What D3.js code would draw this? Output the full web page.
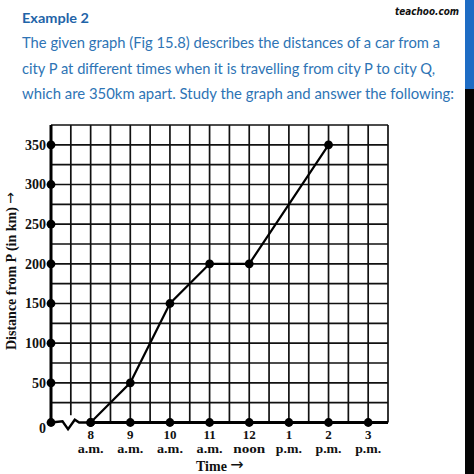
<!DOCTYPE html>
<html>
<head>
<meta charset="utf-8">
<script src="https://cdn.jsdelivr.net/npm/d3@7"></script>
<style>
  html, body { margin: 0; padding: 0; background: #fff; overflow: hidden; }
  svg { display: block; }
</style>
</head>
<body>
<svg id="chart" width="474" height="474"></svg>
<script>
// ---- data ----
const headingText = "Example 2";
const bodyLines = [
  "The given graph (Fig 15.8) describes the distances of a car from a",
  "city P at different times when it is travelling from city P to city Q,",
  "which are 350km apart. Study the graph and answer the following:"
];
const watermark = "teachoo.com";
const timeTicks = [8, 9, 10, 11, 12, 13, 14, 15];
const timeLabelTop = ["8", "9", "10", "11", "12", "1", "2", "3"];
const timeLabelBottom = ["a.m.", "a.m.", "a.m.", "a.m.", "noon", "p.m.", "p.m.", "p.m."];
const distTicks = [0, 50, 100, 150, 200, 250, 300, 350];
const times = [8, 9, 10, 11, 12, 14];
const distances = [0, 50, 150, 200, 200, 350];
const xTitle = "Time ";
const yTitle = "Distance from P (in km) ";
const arrow = "\u2192";
// axis break (zig-zag) in data units
const breakX = [7, 7.29, 7.43, 7.6, 7.71, 8];
const breakY = [0, 1.5, -8.5, 3.5, 0, 0];

// ---- layout ----
const svg = d3.select("#chart");
const blue = "#2e74b5";
const x = d3.scaleLinear().domain([7, 15.5]).range([51, 388]);
const y = d3.scaleLinear().domain([0, 375]).range([422.5, 125]);

// right edge strip
svg.append("rect").attr("x", 465).attr("y", 0).attr("width", 9).attr("height", 89).attr("fill", "#1e6cc4");
svg.append("rect").attr("x", 465).attr("y", 89).attr("width", 9).attr("height", 385).attr("fill", "#050505");

// heading and text
svg.append("text").attr("x", 22).attr("y", 22.7)
  .attr("font-family", "Lato, 'Open Sans', sans-serif").attr("font-weight", 700)
  .attr("font-size", 13.5).attr("fill", "#1f64a8")
  .attr("textLength", 67).attr("lengthAdjust", "spacingAndGlyphs")
  .text(headingText);

const lineBase = [47.5, 73.5, 98.5];
const lineWidth = [418, 413, 432];
svg.selectAll("text.body").data(bodyLines).join("text")
  .attr("class", "body")
  .attr("x", 22).attr("y", (d, i) => lineBase[i])
  .attr("font-family", "Lato, 'Open Sans', sans-serif")
  .attr("font-size", 15).attr("fill", blue)
  .attr("textLength", (d, i) => lineWidth[i]).attr("lengthAdjust", "spacingAndGlyphs")
  .text(d => d);

svg.append("text").attr("x", 395).attr("y", 15)
  .attr("font-family", "'DejaVu Sans', sans-serif").attr("font-weight", 700).attr("font-style", "italic")
  .attr("font-size", 11).attr("fill", "#111")
  .attr("textLength", 64).attr("lengthAdjust", "spacingAndGlyphs")
  .text(watermark);

// grid
const g = svg.append("g");
const vLines = d3.range(7.5, 15.51, 0.5);
const hLines = d3.range(25, 375.1, 25);
g.selectAll("line.v").data(vLines).join("line")
  .attr("x1", d => x(d)).attr("x2", d => x(d))
  .attr("y1", y(375)).attr("y2", d => d < 8 ? y(9) : y(0))
  .attr("stroke", "#111").attr("stroke-width", 1.7);
g.selectAll("line.h").data(hLines).join("line")
  .attr("x1", x(7)).attr("x2", x(15.5))
  .attr("y1", d => y(d)).attr("y2", d => y(d))
  .attr("stroke", "#111").attr("stroke-width", 1.7);

// axes
g.append("line").attr("x1", x(7)).attr("x2", x(7)).attr("y1", y(375)).attr("y2", y(0))
  .attr("stroke", "#000").attr("stroke-width", 3);
g.append("line").attr("x1", x(8)).attr("x2", x(15.5)).attr("y1", y(0)).attr("y2", y(0))
  .attr("stroke", "#000").attr("stroke-width", 3);
g.append("path")
  .attr("d", d3.line().x(d => x(d[0])).y(d => y(d[1]))(breakX.map((v, i) => [v, breakY[i]])))
  .attr("fill", "none").attr("stroke", "#000").attr("stroke-width", 2.4).attr("stroke-linejoin", "miter");

// data line
g.append("path")
  .attr("d", d3.line().x(d => x(d[0])).y(d => y(d[1]))(times.map((t, i) => [t, distances[i]])))
  .attr("fill", "none").attr("stroke", "#000").attr("stroke-width", 2.2);

// dots
const r = 4.4;
g.selectAll("circle.yd").data(distTicks).join("circle")
  .attr("cx", x(7)).attr("cy", d => y(d)).attr("r", r).attr("fill", "#000");
g.selectAll("circle.xd").data(timeTicks).join("circle")
  .attr("cx", d => x(d)).attr("cy", y(0)).attr("r", r).attr("fill", "#000");
g.selectAll("circle.pd").data(times.map((t, i) => [t, distances[i]])).join("circle")
  .attr("cx", d => x(d[0])).attr("cy", d => y(d[1])).attr("r", r).attr("fill", "#000");

// tick labels
const serif = "'Liberation Serif', 'Times New Roman', serif";
svg.selectAll("text.yl").data(distTicks).join("text")
  .attr("x", 46).attr("y", d => y(d) + (d === 0 ? 10 : 4.8))
  .attr("text-anchor", "end").attr("font-family", serif).attr("font-weight", 700)
  .attr("font-size", 14).attr("fill", "#111").text(d => d);

svg.selectAll("text.xl1").data(timeTicks).join("text")
  .attr("class", "xl1").attr("x", d => x(d)).attr("y", 438.5)
  .attr("text-anchor", "middle").attr("font-family", serif).attr("font-weight", 700)
  .attr("font-size", 13).attr("fill", "#111").text((d, i) => timeLabelTop[i]);
svg.selectAll("text.xl2").data(timeTicks).join("text")
  .attr("class", "xl2").attr("x", d => x(d)).attr("y", 453)
  .attr("text-anchor", "middle").attr("font-family", serif).attr("font-weight", 700)
  .attr("font-size", 13).attr("fill", "#111")
  .attr("textLength", (d, i) => timeLabelBottom[i] === "noon" ? 32 : 26).attr("lengthAdjust", "spacingAndGlyphs")
  .text((d, i) => timeLabelBottom[i]);

const xt = svg.append("text").attr("x", 196).attr("y", 470.7)
  .attr("font-family", serif).attr("font-weight", 700)
  .attr("font-size", 14).attr("fill", "#111");
xt.append("tspan").text(xTitle);
xt.append("tspan").attr("font-family", "'DejaVu Sans', sans-serif").attr("font-weight", 400)
  .attr("font-size", 16).attr("dy", -0.5).text(arrow);

const yt = svg.append("text").attr("transform", "translate(15.5,350) rotate(-90)")
  .attr("font-family", serif).attr("font-weight", 700)
  .attr("font-size", 14).attr("fill", "#111");
yt.append("tspan").text(yTitle);
yt.append("tspan").attr("font-family", "'DejaVu Sans', sans-serif").attr("font-weight", 400)
  .attr("font-size", 14).attr("dy", -0.5).text(arrow);
</script>
</body>
</html>
